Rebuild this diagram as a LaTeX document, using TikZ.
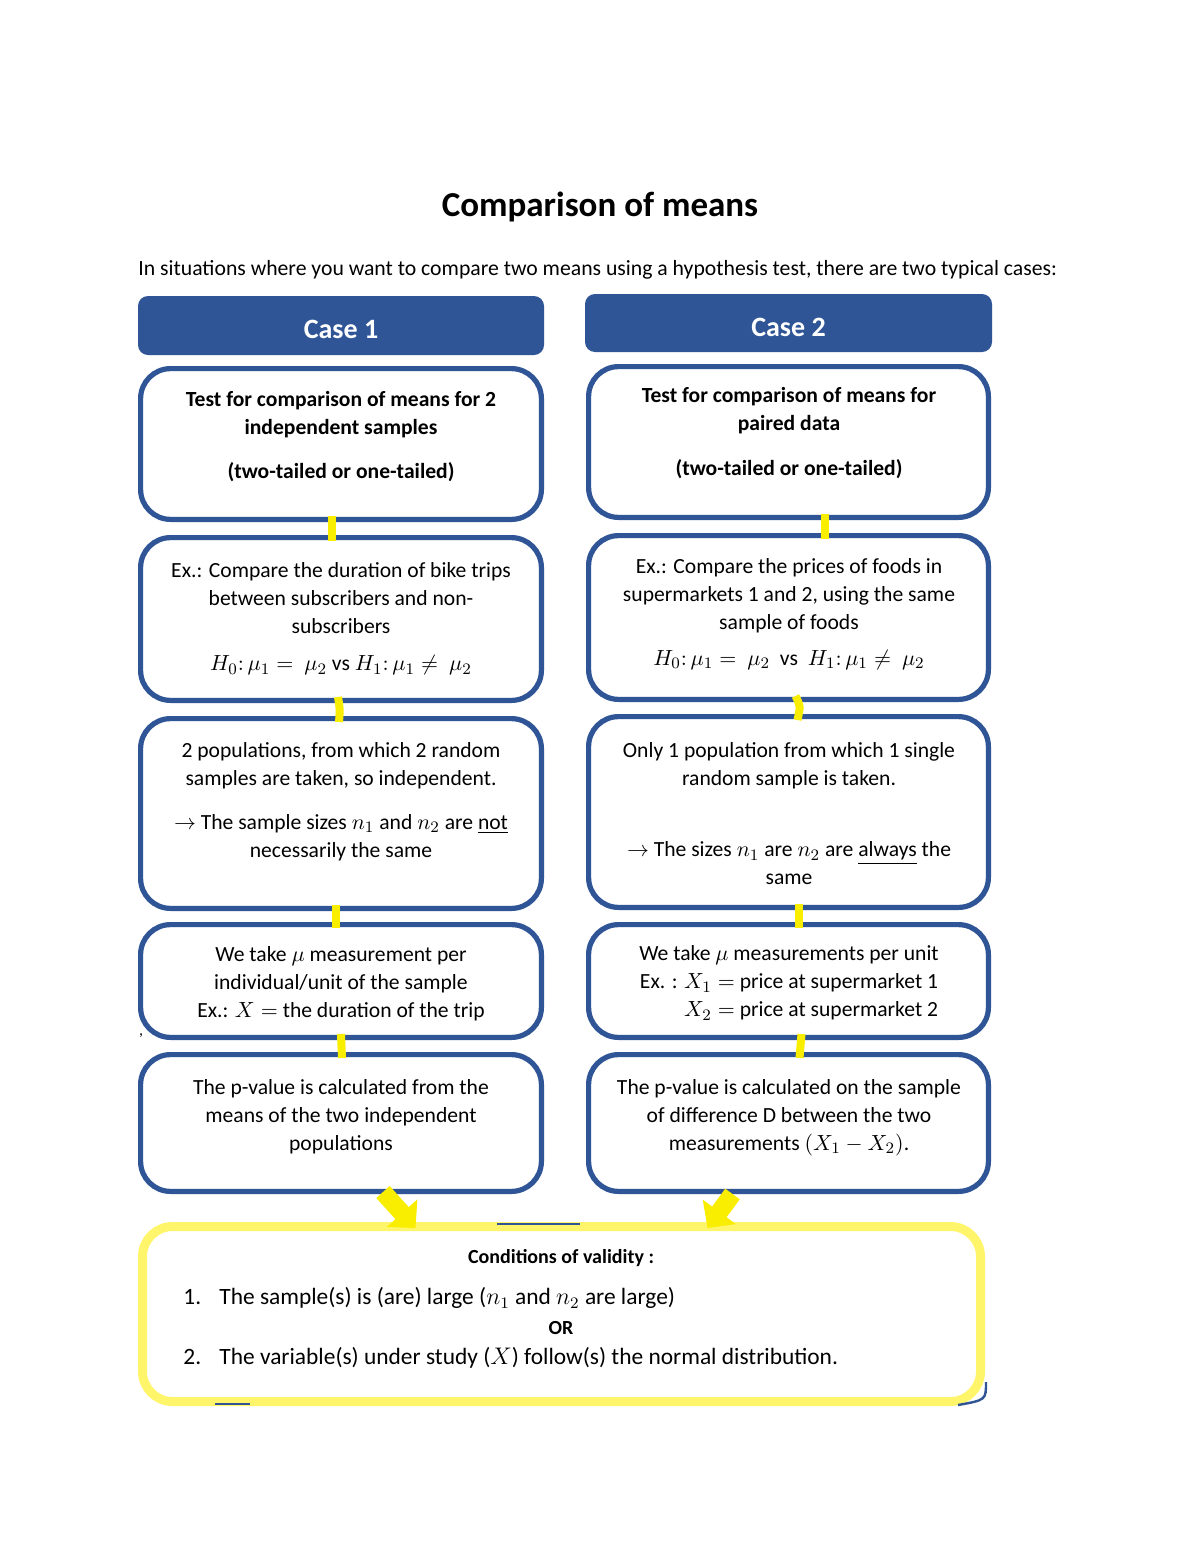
\documentclass[tikz,border=0pt]{standalone}
\usepackage{fontspec}
\setmainfont{Carlito}
\usetikzlibrary{arrows.meta,calc}
\definecolor{blueC}{HTML}{2F5597}
\definecolor{yelC}{HTML}{F9EE00}
\definecolor{yelL}{HTML}{FFF56A}
\tikzset{
  box/.style={draw=blueC, line width=2.6pt, rounded corners=15pt, fill=white, inner sep=0pt},
  head/.style={fill=blueC, rounded corners=5pt, inner sep=0pt},
  headtxt/.style={inner sep=0pt, text=white, font=\fontsize{14}{16}\selectfont\bfseries},
  txt/.style={align=center, inner sep=0pt, font=\fontsize{10.8}{14}\selectfont},
  btxt/.style={align=center, inner sep=0pt, font=\fontsize{10.8}{14}\selectfont\bfseries},
  yconn/.style={draw=yelC, line width=4pt},
  yarrow/.style={draw=yelC, line width=9pt, -{Triangle[length=10pt,width=20pt]}},
  condbox/.style={draw=yelL, line width=4.5pt, rounded corners=15pt, inner sep=0pt},
  remnant/.style={draw=blueC, line width=1.2pt},
}
\begin{document}
\begin{tikzpicture}[x=0.5pt,y=-0.5pt]
\useasboundingbox[fill=white] (0,0) rectangle (1200,1553);

% title and intro
\node[inner sep=0pt, font=\fontsize{17.5}{20}\selectfont\bfseries] (title) at (600,207) {Comparison of means};
\node[inner sep=0pt, anchor=west, font=\fontsize{10.85}{14}\selectfont] (intro) at (138,270) {In situations where you want to compare two means using a hypothesis test, there are two typical cases:};

% headers
\node[head, minimum width=203pt, minimum height=29.5pt] (H1) at (341,325.5) {};
\node[headtxt] (H1t) at (341,329) {Case 1};
\node[head, minimum width=203.5pt, minimum height=29pt] (H2) at (788.5,323) {};
\node[headtxt] (H2t) at (788.5,327) {Case 2};

% left boxes
\node[box, minimum width=200.4pt, minimum height=75.4pt] (L1) at (341,444) {};
\node[box, minimum width=200.4pt, minimum height=81.4pt] (L2) at (341,619) {};
\node[box, minimum width=200.4pt, minimum height=94.9pt] (L3) at (341,813.5) {};
\node[box, minimum width=200.4pt, minimum height=56.4pt] (L4) at (341,981) {};
\node[box, minimum width=200.4pt, minimum height=68.4pt] (L5) at (341,1123) {};
% right boxes
\node[box, minimum width=199.9pt, minimum height=75.4pt] (R1) at (788.5,442) {};
\node[box, minimum width=199.9pt, minimum height=81.9pt] (R2) at (788.5,617.5) {};
\node[box, minimum width=199.9pt, minimum height=95.4pt] (R3) at (788.5,812) {};
\node[box, minimum width=199.9pt, minimum height=56.4pt] (R4) at (788.5,981) {};
\node[box, minimum width=199.9pt, minimum height=68.4pt] (R5) at (788.5,1123) {};

% left texts
\node[btxt] (L1t) at (341,437) {Test for comparison of means for 2\\ independent samples\\[8pt] (two-tailed or one-tailed)};
\node[txt] (L2t) at (341,619) {Ex.: Compare the duration of bike trips\\ between subscribers and non-\\ subscribers\\[4.5pt] $H_0\colon \mu_1 =\ \mu_2$ vs $H_1\colon \mu_1 \neq\ \mu_2$};
\node[txt] (L3t) at (341,801.5) {2 populations, from which 2 random\\ samples are taken, so independent.\\[8pt] $\rightarrow$ The sample sizes $n_1$ and $n_2$ are \underline{not}\\ necessarily the same};
\node[txt] (L4t) at (341,983.5) {We take $\mu$ measurement per\\ individual/unit of the sample\\ Ex.: $X=$ the duration of the trip};
\node[txt] (L5t) at (341,1116.5) {The p-value is calculated from the\\ means of the two independent\\ populations};

% right texts
\node[btxt] (R1t) at (789,433.5) {Test for comparison of means for\\ paired data\\[8.5pt] (two-tailed or one-tailed)};
\node[txt] (R2t) at (789,614) {Ex.: Compare the prices of foods in\\ supermarkets 1 and 2, using the same\\ sample of foods\\[4pt] $H_0\colon \mu_1 =\ \mu_2$\ \ vs\ \ $H_1\colon \mu_1 \neq\ \mu_2$};
\node[txt] (R3t) at (789,814) {Only 1 population from which 1 single\\ random sample is taken.\\[21.5pt] $\rightarrow$ The sizes $n_1$ are $n_2$ are \underline{always} the\\ same};
\node[txt] (R4t) at (789,983) {We take $\mu$ measurements per unit\\ Ex. : $X_1 =$ price at supermarket 1\\ \hphantom{Ex. : }$X_2 =$ price at supermarket 2};
\node[txt] (R5t) at (789,1117.5) {The p-value is calculated on the sample\\ of difference D between the two\\ measurements $(X_1 - X_2)$.};

% stray comma
\node[inner sep=0pt, font=\fontsize{8}{8}\selectfont] (comma) at (141,1036) {,};

% yellow connectors
\draw[yconn] ($(L1.south)+(-9,-6)$) -- ($(L2.north)+(-9,6)$);
\draw[yconn] ($(L2.south)+(-3,-6)$) .. controls ($(L2.south)+(-1,6)$) .. ($(L3.north)+(-2,6)$);
\draw[yconn] ($(L3.south)+(-5,-6)$) -- ($(L4.north)+(-5,6)$);
\draw[yconn] ($(L4.south)+(0,-6)$) -- ($(L5.north)+(1,6)$);
\draw[yconn] ($(R1.south)+(36.5,-6)$) -- ($(R2.north)+(36.5,6)$);
\draw[yconn] ($(R2.south)+(7,-6)$) .. controls ($(R2.south)+(12,4)$) .. ($(R3.north)+(9,6)$);
\draw[yconn] ($(R3.south)+(10.5,-6)$) -- ($(R4.north)+(10.5,6)$);
\draw[yconn] ($(R4.south)+(13,-6)$) -- ($(R5.north)+(11,6)$);

% conditions box
\node[condbox, minimum width=419pt, minimum height=87.5pt] (CB) at (561.5,1314) {};
\draw[remnant] (497,1224) -- (580,1224);
\draw[remnant] (215,1404) -- (250,1404);
\draw[remnant] (986,1382) .. controls (986,1400) .. (958,1405);
\node[inner sep=0pt, font=\fontsize{10}{12}\selectfont\bfseries] (CBt) at (561,1258) {Conditions of validity :};
\node[inner sep=0pt, anchor=west, font=\fontsize{11.7}{14}\selectfont] (CBi1) at (183,1298) {\makebox[18pt][l]{1.}The sample(s) is (are) large ($n_1$ and $n_2$ are large)};
\node[inner sep=0pt, font=\fontsize{10}{12}\selectfont\bfseries] (CBor) at (561,1328) {OR};
\node[inner sep=0pt, anchor=west, font=\fontsize{11.7}{14}\selectfont] (CBi2) at (183,1358) {\makebox[18pt][l]{2.}The variable(s) under study ($X$) follow(s) the normal distribution.};

% bottom arrows
\draw[yarrow] ($(L5.south)+(42,-2)$) -- ($(CB.north)+(-146,6)$);
\draw[yarrow] ($(R5.south)+(-56,0)$) -- ($(CB.north)+(146,6)$);
\end{tikzpicture}
\end{document}
